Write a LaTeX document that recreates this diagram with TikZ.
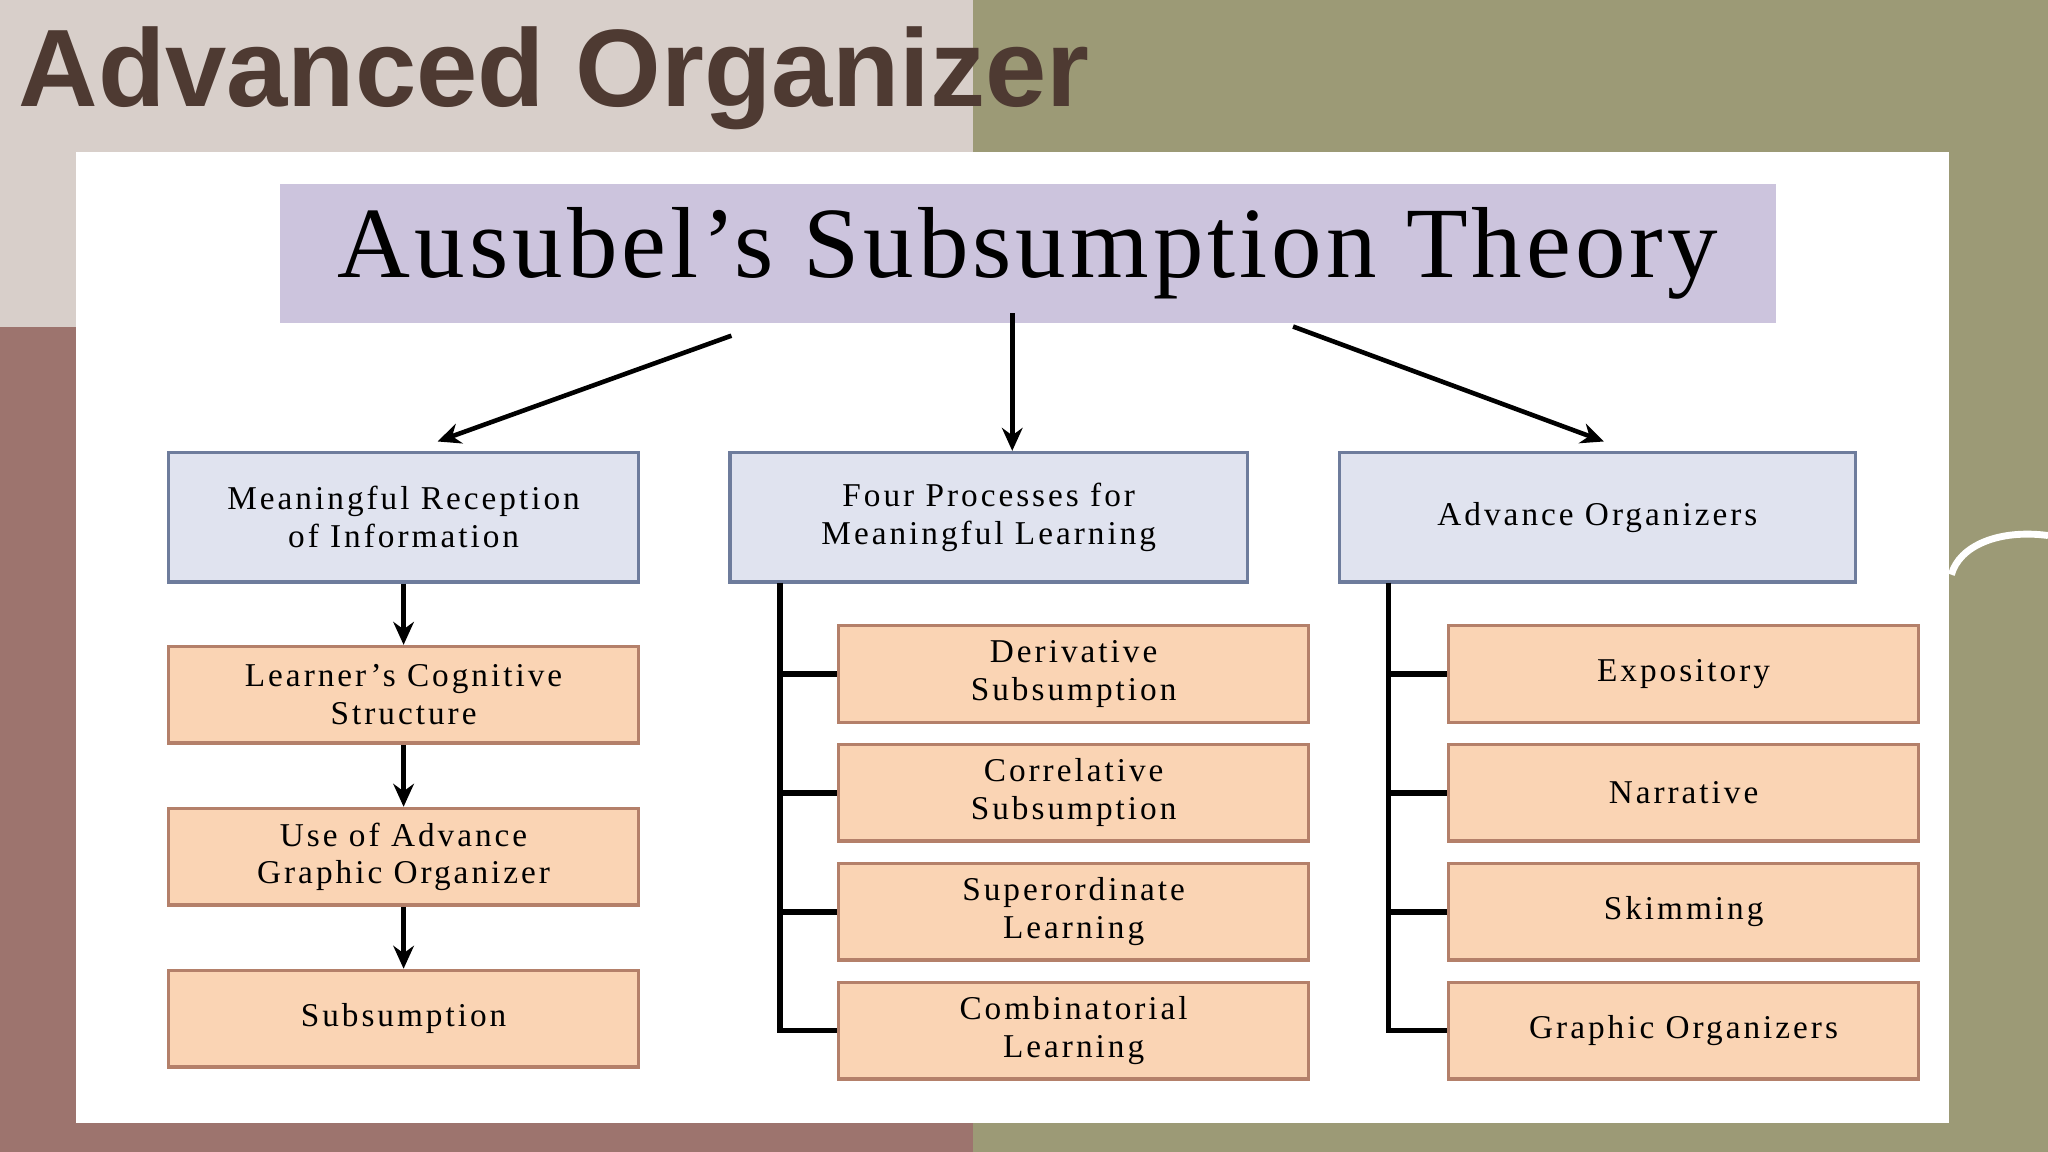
\documentclass[tikz,border=0pt]{standalone}
\usepackage{fontspec}
\setmainfont{Liberation Serif}
\newfontfamily\headfont{Liberation Sans}
\newfontfamily\boxfont[LetterSpace=9, Ligatures=TeX]{Liberation Serif}
\newfontfamily\theoryfont[LetterSpace=4, Ligatures=TeX]{Liberation Serif}
\usetikzlibrary{arrows.meta, positioning, calc}
\definecolor{bgleft}{HTML}{D8CFCA}
\definecolor{bgolive}{HTML}{9C9A76}
\definecolor{bgbrown}{HTML}{9D746E}
\definecolor{headtxt}{HTML}{4E3A32}
\definecolor{lavender}{HTML}{CCC4DD}
\definecolor{bluebox}{HTML}{E0E3EF}
\definecolor{blueline}{HTML}{6E7C9C}
\definecolor{peach}{HTML}{FAD4B4}
\definecolor{peachline}{HTML}{B4806A}
\tikzset{
  mainbox/.style={fill=bluebox, draw=blueline, line width=1.5pt, minimum width=7.2cm, minimum height=1.98cm, align=center, font=\boxfont\fontsize{14.5}{16.5}\selectfont},
  subbox/.style={fill=peach, draw=peachline, line width=1.5pt, minimum width=7.2cm, minimum height=1.48cm, align=center, font=\boxfont\fontsize{14.5}{16.5}\selectfont},
  arr/.style={-{Stealth[length=10pt,width=9pt]}, line width=2pt},
  trunk/.style={line width=2.5pt}
}
\begin{document}
\begin{tikzpicture}[x=0.02cm, y=-0.02cm]
% background
\useasboundingbox (0,0) rectangle (1568,882);
\fill[bgolive] (0,0) rectangle (1568,882);
\fill[bgleft] (0,0) -- (745,0) -- (745,250) -- (0,250) -- cycle;
\fill[bgbrown] (0,250) -- (745,250) -- (745,882) -- (0,882) -- cycle;
\draw[white, line width=3pt] (1494,440) .. controls (1500,418) and (1530,405) .. (1568,410);
% title
\node[anchor=west, text=headtxt, font=\headfont\bfseries\fontsize{48}{50}\selectfont] (head) at (8,60) {Advanced Organizer};
% white panel
\fill[white] (58,116) rectangle (1492,860);
\node[fill=lavender, minimum width=22.92cm, minimum height=2.12cm, font=\theoryfont\fontsize{44}{46}\selectfont] (theory) at (787,194) {Ausubel’s Subsumption Theory};
% second level
\node[mainbox] (recep) at (309,396) {Meaningful Reception\\of Information};
\node[mainbox, minimum width=7.92cm] (four) at (757,396) {Four Processes for\\Meaningful Learning};
\node[mainbox, minimum width=7.9cm] (orgs) at (1223,396) {Advance Organizers};
\coordinate (t1) at (560,257);
\coordinate (t2) at (775,240);
\coordinate (t3) at (990,250);
\coordinate (h1) at (335,338);
\coordinate (h3) at (1228,338);
\draw[arr] (t1) -- (h1);
\draw[arr] (t2) -- (four.north -| t2);
\draw[arr] (t3) -- (h3);
% left column
\node[subbox] (cogn) at (309,532) {Learner’s Cognitive\\Structure};
\node[subbox] (graph) at (309,656) {Use of Advance\\Graphic Organizer};
\node[subbox] (subs) at (309,780) {Subsumption};
\draw[arr] (recep) -- (cogn);
\draw[arr] (cogn) -- (graph);
\draw[arr] (graph) -- (subs);
% middle column
\node[subbox] (deriv) at (822,516) {Derivative\\Subsumption};
\node[subbox] (corr) at (822,607) {Correlative\\Subsumption};
\node[subbox] (super) at (822,698) {Superordinate\\Learning};
\node[subbox] (comb) at (822,789) {Combinatorial\\Learning};
\coordinate (m0) at (597,446);
\draw[trunk] (m0) |- (comb.west);
\foreach \n in {deriv, corr, super} \draw[trunk] (m0 |- \n.west) -- (\n.west);
% right column
\node[subbox] (expo) at (1289,516) {Expository};
\node[subbox] (narr) at (1289,607) {Narrative};
\node[subbox] (skim) at (1289,698) {Skimming};
\node[subbox] (gorg) at (1289,789) {Graphic Organizers};
\coordinate (r0) at (1063,446);
\draw[trunk] (r0) |- (gorg.west);
\foreach \n in {expo, narr, skim} \draw[trunk] (r0 |- \n.west) -- (\n.west);
\end{tikzpicture}
\end{document}
